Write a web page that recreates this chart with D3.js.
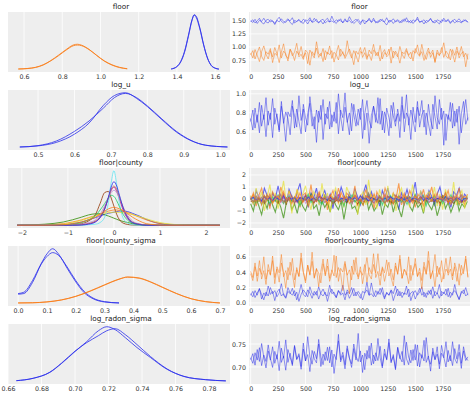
<!DOCTYPE html>
<html><head><meta charset="utf-8">
<script src="https://cdn.jsdelivr.net/npm/d3@7"></script>
<style>body{margin:0;background:#fff}text{font-family:"DejaVu Sans",sans-serif}</style>
</head><body><script>
// ---------- colours (ArviZ darkgrid cycle) ----------
const palette = ["#2a2eec","#fa7c17","#328c06","#c10c90","#933708","#65e5f3","#e6e135","#1ccd6a","#bd8ad5","#b16b57"];
const drawTicks = [0,250,500,750,1000,1250,1500,1750];

// ---------- floor ----------
const floorKdeX0 = [1.37,1.40,1.42,1.44,1.46,1.48,1.49,1.50,1.52,1.54,1.56,1.58,1.60,1.62];
const floorKdeA0 = [0.05,0.5,1.4,3.2,6.0,8.9,9.6,9.3,7.2,4.3,2.0,0.7,0.2,0.03];
const floorKdeB0 = [0.05,0.45,1.3,3.0,5.8,8.8,9.7,9.5,7.4,4.4,2.0,0.65,0.2,0.03];
const floorKdeX1 = [0.57,0.62,0.66,0.70,0.74,0.78,0.82,0.86,0.88,0.90,0.94,0.98,1.02,1.06,1.10,1.14];
const floorKdeA1 = [0.05,0.15,0.35,0.8,1.5,2.4,3.4,4.2,4.3,4.2,3.5,2.5,1.5,0.8,0.35,0.1];
const floorKdeB1 = [0.05,0.13,0.32,0.75,1.55,2.5,3.5,4.35,4.45,4.3,3.55,2.45,1.45,0.75,0.3,0.08];
const floorTraceA0 = [1.49,1.52,1.46,1.50,1.55,1.47,1.44,1.51,1.53,1.48,1.50,1.45,1.52,1.57,1.49,1.46,1.50,1.54,1.47,1.43,1.51,1.49,1.53,1.48,1.45,1.52,1.50,1.56,1.47,1.49,1.53,1.46,1.50,1.44,1.51,1.55,1.48,1.50,1.47,1.52,1.49,1.54,1.46,1.51,1.48,1.58,1.50,1.45,1.49,1.53,1.47,1.51,1.44,1.50,1.52,1.48,1.55,1.46,1.50,1.49,1.53,1.47,1.42,1.51,1.49,1.54,1.48,1.50,1.46,1.52,1.49,1.56,1.47,1.51,1.45,1.50,1.53,1.48,1.49,1.52,1.46,1.50,1.55,1.47,1.51,1.48,1.44,1.52,1.50,1.49,1.53,1.47,1.51,1.46,1.50,1.54,1.48,1.49,1.52,1.47];
const floorTraceB0 = [1.50,1.47,1.53,1.45,1.51,1.49,1.55,1.48,1.46,1.52,1.50,1.43,1.51,1.48,1.54,1.49,1.47,1.52,1.50,1.56,1.46,1.49,1.51,1.47,1.53,1.50,1.44,1.52,1.48,1.55,1.49,1.47,1.51,1.53,1.46,1.50,1.48,1.59,1.49,1.45,1.52,1.50,1.47,1.54,1.48,1.51,1.46,1.50,1.53,1.49,1.43,1.52,1.50,1.48,1.55,1.47,1.51,1.49,1.46,1.53,1.50,1.48,1.56,1.47,1.51,1.45,1.50,1.52,1.49,1.47,1.54,1.48,1.50,1.46,1.52,1.49,1.57,1.47,1.50,1.44,1.51,1.49,1.53,1.48,1.46,1.52,1.50,1.47,1.55,1.49,1.51,1.45,1.50,1.53,1.48,1.49,1.46,1.52,1.50,1.48];
const floorTraceA1 = [0.88,0.79,0.95,0.84,0.72,0.91,1.02,0.86,0.77,0.93,0.81,0.99,0.87,0.70,0.90,1.06,0.83,0.78,0.96,0.88,0.74,0.92,0.85,1.01,0.80,0.89,0.68,0.94,0.86,0.79,1.10,0.87,0.83,0.97,0.75,0.90,0.85,0.93,0.71,0.88,1.03,0.82,0.91,0.78,0.87,0.96,0.84,0.66,0.92,0.86,0.99,0.80,0.89,0.76,0.94,0.87,1.05,0.83,0.90,0.73,0.88,0.95,0.81,0.86,1.00,0.79,0.92,0.85,0.69,0.90,0.87,0.97,0.82,0.77,0.93,0.88,1.04,0.84,0.91,0.74,0.86,0.98,0.80,0.89,0.72,0.94,0.85,0.90,1.08,0.83,0.78,0.96,0.87,0.71,0.92,0.85,1.01,0.81,0.88,0.76];
const floorTraceB1 = [0.85,0.93,0.77,0.89,1.00,0.82,0.74,0.91,0.86,0.97,0.70,0.88,0.84,1.04,0.79,0.92,0.87,0.73,0.95,0.83,0.90,1.07,0.81,0.86,0.76,0.94,0.89,0.65,0.91,0.84,0.98,0.80,0.88,0.72,0.93,0.86,1.02,0.78,0.90,0.85,0.75,0.96,0.87,0.82,1.12,0.89,0.79,0.93,0.84,0.71,0.91,0.88,0.99,0.80,0.86,0.74,0.94,0.90,0.83,1.03,0.77,0.89,0.85,0.96,0.69,0.92,0.87,0.81,1.01,0.86,0.78,0.93,0.84,0.90,0.73,0.97,0.88,0.82,1.05,0.85,0.76,0.91,0.87,0.94,0.70,0.89,0.83,0.99,0.80,0.92,0.86,0.75,0.95,0.84,1.00,0.79,0.88,0.91,0.62,0.87];

// ---------- log_u ----------
const loguKdeX = [0.45,0.50,0.55,0.60,0.64,0.68,0.71,0.74,0.77,0.80,0.84,0.88,0.92,0.96,1.02];
const loguKdeA = [0.02,0.12,0.45,1.15,1.9,2.85,3.6,3.9,3.6,3.0,2.05,1.15,0.5,0.15,0.02];
const loguKdeB = [0.02,0.1,0.35,0.95,1.75,3.05,3.75,3.95,3.55,2.95,2.0,1.1,0.48,0.15,0.02];
const loguTraceA = [0.74,0.62,0.85,0.70,0.91,0.66,0.78,0.55,0.82,0.73,0.95,0.68,0.79,0.60,0.87,0.72,0.50,0.81,0.76,0.93,0.64,0.84,0.71,0.58,0.89,0.75,0.67,0.97,0.77,0.63,0.83,0.70,0.88,0.52,0.79,0.74,0.92,0.65,0.81,0.69,1.00,0.76,0.61,0.86,0.72,0.57,0.90,0.78,0.66,0.84,0.73,0.94,0.62,0.80,0.48,0.77,0.87,0.70,0.96,0.68,0.82,0.59,0.85,0.75,0.64,0.91,0.71,0.79,0.54,0.88,0.74,0.99,0.67,0.83,0.72,0.60,0.86,0.77,0.93,0.65,0.80,0.69,0.56,0.89,0.76,0.63,0.94,0.73,0.82,0.51,0.78,0.71,0.90,0.66,0.84,0.47,0.79,0.92,0.68,0.75];
const loguTraceB = [0.71,0.83,0.64,0.78,0.59,0.88,0.73,0.96,0.67,0.80,0.54,0.85,0.75,0.62,0.92,0.69,0.81,0.74,0.57,0.87,0.77,0.65,0.98,0.72,0.84,0.60,0.79,0.90,0.66,0.76,0.49,0.82,0.73,0.94,0.68,0.86,0.63,0.78,0.71,0.91,0.58,0.83,0.75,1.01,0.70,0.80,0.61,0.89,0.74,0.67,0.85,0.53,0.79,0.93,0.72,0.64,0.87,0.76,0.69,0.95,0.62,0.81,0.73,0.56,0.88,0.77,0.66,0.84,0.71,0.97,0.60,0.80,0.74,0.52,0.86,0.70,0.92,0.65,0.78,0.83,0.57,0.89,0.72,0.63,0.98,0.75,0.68,0.85,0.46,0.79,0.73,0.91,0.64,0.82,0.70,0.87,0.59,0.77,0.94,0.72];

// ---------- floor|county ----------
const countyKdeX = [-2.1,-1.5,-1.1,-0.9,-0.7,-0.55,-0.4,-0.3,-0.2,-0.12,-0.06,0,0.06,0.12,0.2,0.3,0.4,0.55,0.7,0.9,1.1,1.5,2.3];
const countyKde = [
 [0,0,0.01,0.03,0.06,0.1,0.14,0.17,0.2,0.22,0.23,0.24,0.25,0.26,0.26,0.25,0.22,0.17,0.11,0.05,0.02,0.005,0],
 [0,0.01,0.03,0.06,0.1,0.14,0.18,0.21,0.24,0.26,0.27,0.28,0.28,0.27,0.26,0.23,0.2,0.15,0.1,0.05,0.02,0.005,0],
 [0,0.02,0.06,0.1,0.15,0.19,0.21,0.21,0.19,0.17,0.15,0.13,0.11,0.09,0.07,0.05,0.03,0.015,0.006,0.002,0,0,0],
 [0,0,0,0,0.01,0.03,0.07,0.14,0.3,0.5,0.64,0.7,0.62,0.48,0.28,0.12,0.05,0.02,0.005,0,0,0,0],
 [0,0,0,0.01,0.03,0.08,0.2,0.4,0.6,0.62,0.5,0.35,0.2,0.1,0.04,0.015,0.005,0,0,0,0,0,0],
 [0,0,0,0,0,0.01,0.02,0.05,0.15,0.42,0.78,1.0,0.75,0.4,0.13,0.04,0.01,0,0,0,0,0,0],
 [0,0.005,0.02,0.05,0.09,0.13,0.17,0.2,0.22,0.23,0.235,0.24,0.24,0.235,0.23,0.22,0.2,0.16,0.12,0.07,0.035,0.008,0],
 [0,0,0.005,0.02,0.05,0.1,0.18,0.28,0.4,0.5,0.55,0.53,0.45,0.34,0.2,0.09,0.04,0.012,0.003,0,0,0,0],
 [0,0,0,0.005,0.02,0.05,0.1,0.2,0.36,0.5,0.6,0.64,0.6,0.5,0.34,0.18,0.08,0.025,0.006,0,0,0,0],
 [0,0,0,0,0.01,0.03,0.08,0.16,0.32,0.5,0.66,0.72,0.66,0.52,0.32,0.15,0.06,0.02,0.004,0,0,0,0],
 [0,0,0,0,0.005,0.02,0.06,0.14,0.3,0.52,0.7,0.8,0.72,0.55,0.32,0.14,0.05,0.015,0,0,0,0,0],
 [0,0,0.01,0.03,0.06,0.1,0.15,0.2,0.26,0.3,0.32,0.33,0.32,0.3,0.27,0.21,0.15,0.08,0.03,0.01,0,0,0]
];
const countyTrace = [
 [0.2,-0.4,0.7,0.1,-0.2,0.9,0.3,-0.6,0.5,0.0,1.1,-0.1,0.4,-0.5,0.8,0.2,-0.3,0.6,1.3,-0.2,0.3,-0.7,0.5,0.1,0.9,-0.4,0.2,0.7,-0.1,0.4,-0.8,0.6,0.0,1.0,0.3,-0.3,0.5,-0.1,0.8,0.2,-0.5,0.4,1.2,0.0,0.6,-0.2,0.3,-0.6,0.7,0.1,0.9,-0.3,0.4,0.2,-0.9,0.5,0.0,0.8,-0.1,0.3,1.4,-0.4,0.6,0.1,-0.2,0.7,0.2,-0.5,0.4,1.0,-0.1,0.5,0.0,-0.7,0.6,0.3,0.9,-0.2,0.4,0.1],
 [-0.1,0.5,-0.6,0.3,0.9,-0.2,0.4,-0.8,0.6,0.1,-0.3,1.0,0.2,-0.5,0.7,0.0,-0.2,0.8,-0.7,0.3,0.5,-0.1,1.2,-0.4,0.2,0.6,-0.3,0.4,-0.9,0.1,0.7,-0.2,0.9,0.0,-0.5,0.5,0.2,-0.1,1.1,-0.6,0.3,0.0,0.8,-0.3,0.4,-0.8,0.6,0.1,-0.2,0.9,0.2,-0.4,0.5,0.0,1.3,-0.5,0.3,-0.1,0.7,0.1,-0.7,0.4,0.0,0.8,-0.3,0.2,1.0,-0.2,0.5,-0.6,0.3,0.1,0.7,-0.4,0.2,-0.1,0.9,0.0,-0.5,0.4],
 [-0.4,-1.0,0.1,-0.6,-1.3,-0.2,-0.8,0.3,-0.5,-1.1,-0.1,-0.7,-1.6,-0.3,0.2,-0.9,-0.4,-1.2,0.0,-0.6,-1.0,-0.2,0.4,-0.8,-0.5,-1.4,-0.1,-0.7,-0.3,-1.1,0.1,-0.5,-0.9,-0.2,-1.7,-0.4,0.2,-0.8,-0.6,-1.2,-0.1,-0.5,0.3,-0.9,-0.3,-1.0,-0.6,0.0,-1.3,-0.4,-0.7,0.1,-1.1,-0.2,-0.8,-1.5,-0.3,0.2,-0.6,-1.0,-0.1,-0.7,-0.4,-1.2,0.0,-0.5,-0.9,-0.2,-1.4,-0.6,0.3,-0.8,-0.3,-1.1,-0.5,0.1,-1.0,-0.4,-0.7,-0.2],
 [0.0,0.15,-0.12,0.08,-0.2,0.22,-0.05,0.1,-0.15,0.3,0.02,-0.25,0.12,-0.08,0.18,-0.02,0.05,-0.3,0.14,-0.1,0.25,0.0,-0.14,0.09,-0.22,0.16,0.04,-0.06,0.2,-0.18,0.07,-0.03,0.35,-0.11,0.13,-0.07,0.01,-0.2,0.19,0.06,-0.16,0.11,-0.04,0.24,-0.09,0.03,-0.26,0.15,0.0,-0.12,0.21,-0.05,0.08,-0.17,0.28,-0.02,0.1,-0.13,0.17,-0.08,0.05,-0.21,0.12,0.02,-0.1,0.19,-0.15,0.07,-0.04,0.23,-0.11,0.14,-0.28,0.09,0.0,-0.07,0.16,-0.19,0.06,0.02],
 [-0.15,-0.3,0.0,-0.2,-0.05,-0.35,-0.12,0.08,-0.25,-0.1,-0.4,-0.02,-0.18,-0.28,0.05,-0.14,-0.22,-0.06,-0.45,-0.16,0.02,-0.24,-0.1,-0.32,-0.04,-0.19,0.1,-0.27,-0.13,-0.08,-0.36,-0.17,-0.01,-0.23,-0.11,-0.3,0.04,-0.2,-0.14,-0.42,-0.07,-0.18,-0.26,-0.03,-0.15,-0.33,0.06,-0.21,-0.12,-0.29,-0.05,-0.16,-0.38,-0.09,-0.22,0.0,-0.25,-0.13,-0.31,-0.06,-0.19,-0.1,-0.44,-0.15,-0.02,-0.27,-0.12,-0.2,0.03,-0.34,-0.16,-0.08,-0.24,-0.11,-0.37,-0.04,-0.18,-0.28,-0.13,-0.07],
 [0.0,0.06,-0.05,0.1,-0.08,0.03,-0.12,0.07,-0.02,0.12,-0.06,0.04,-0.1,0.08,0.0,-0.04,0.14,-0.07,0.02,-0.11,0.09,-0.03,0.05,-0.14,0.06,0.01,-0.08,0.11,-0.05,0.03,-0.09,0.13,-0.02,0.07,-0.06,0.0,0.1,-0.12,0.04,-0.03,0.08,-0.07,0.15,-0.04,0.02,-0.1,0.06,-0.01,0.09,-0.08,0.03,-0.05,0.12,-0.09,0.05,0.0,-0.13,0.07,-0.03,0.1,-0.06,0.04,-0.11,0.08,-0.02,0.06,-0.07,0.11,-0.04,0.01,-0.09,0.13,-0.05,0.03,-0.08,0.09,-0.01,-0.06,0.05,0.0],
 [0.3,-0.5,0.9,-0.2,0.6,-1.0,0.1,1.2,-0.4,0.5,-0.8,0.2,1.5,-0.3,0.7,-1.2,0.0,0.8,-0.6,0.4,1.1,-0.1,-0.9,0.6,0.2,-0.5,1.3,-0.2,0.5,-1.1,0.3,0.9,-0.4,0.1,-0.7,1.0,0.4,-0.3,0.7,-1.3,0.2,0.6,-0.5,1.6,-0.1,0.3,-0.8,0.8,0.0,-0.6,1.1,-0.2,0.5,-1.0,0.4,0.9,-0.3,0.2,-0.7,1.2,0.1,-0.4,0.7,-1.1,0.3,0.6,-0.2,1.0,-0.6,0.4,-0.9,0.8,0.0,-0.3,1.4,-0.5,0.2,0.7,-0.8,0.3],
 [-0.05,0.2,-0.3,0.1,-0.45,0.25,-0.1,-0.35,0.15,-0.2,0.35,-0.05,-0.4,0.05,0.3,-0.25,0.1,-0.15,-0.55,0.2,-0.05,0.4,-0.3,0.0,0.15,-0.2,-0.45,0.25,-0.1,0.1,-0.35,0.3,-0.15,0.05,-0.6,0.2,-0.05,0.35,-0.25,0.0,-0.4,0.15,-0.1,0.45,-0.3,0.05,-0.2,0.25,-0.5,0.1,-0.05,0.3,-0.35,-0.1,0.2,-0.25,0.05,-0.45,0.15,0.0,0.4,-0.2,-0.05,0.3,-0.55,0.1,-0.15,0.25,-0.3,0.05,-0.4,0.2,-0.1,0.35,-0.25,0.0,-0.5,0.15,-0.05,0.1],
 [0.0,0.2,-0.15,0.3,-0.25,0.1,-0.05,0.35,-0.2,0.05,0.25,-0.3,0.15,-0.1,0.4,-0.02,-0.22,0.18,-0.08,0.28,-0.35,0.08,0.12,-0.18,0.32,-0.05,0.02,-0.28,0.22,0.06,-0.12,0.38,-0.15,0.1,-0.25,0.16,0.0,-0.4,0.24,-0.06,0.14,-0.2,0.3,-0.1,0.04,-0.32,0.2,0.08,-0.16,0.42,-0.04,0.12,-0.26,0.18,-0.08,0.26,-0.14,0.02,-0.36,0.22,0.06,-0.18,0.34,-0.02,0.1,-0.24,0.16,-0.12,0.28,-0.06,0.0,-0.3,0.2,0.08,-0.2,0.36,-0.1,0.14,-0.16,0.04],
 [0.0,-0.2,0.25,-0.1,0.15,-0.35,0.3,0.05,-0.25,0.2,-0.05,0.4,-0.3,0.1,-0.15,0.28,-0.4,0.12,0.02,-0.22,0.35,-0.08,0.18,-0.3,0.06,0.45,-0.18,0.1,-0.12,0.3,-0.45,0.2,0.0,-0.26,0.24,-0.06,0.14,-0.36,0.32,0.04,-0.2,0.16,-0.1,0.5,-0.28,0.08,-0.14,0.26,-0.04,-0.38,0.22,0.1,-0.24,0.34,-0.08,0.12,-0.5,0.18,0.02,-0.16,0.3,-0.32,0.06,0.2,-0.12,0.42,-0.2,0.0,-0.28,0.14,0.24,-0.06,0.1,-0.42,0.28,-0.14,0.04,0.36,-0.22,0.08],
 [0.02,0.12,-0.1,0.05,-0.18,0.2,-0.04,0.09,-0.13,0.16,0.0,-0.08,0.24,-0.15,0.07,-0.02,0.13,-0.2,0.1,0.03,-0.11,0.18,-0.06,0.08,-0.16,0.22,-0.01,0.05,-0.12,0.14,-0.07,0.11,-0.22,0.06,0.01,-0.09,0.17,-0.04,0.09,-0.14,0.26,-0.03,0.07,-0.17,0.12,0.0,-0.1,0.15,-0.05,0.08,-0.19,0.2,-0.02,0.04,-0.12,0.13,-0.08,0.1,-0.24,0.06,0.02,-0.06,0.18,-0.11,0.09,-0.03,0.14,-0.15,0.05,0.01,-0.09,0.21,-0.04,0.07,-0.13,0.11,-0.01,-0.18,0.08,0.03],
 [0.0,0.35,-0.25,0.15,-0.5,0.3,-0.1,0.45,-0.35,0.05,0.25,-0.2,0.6,-0.15,0.1,-0.4,0.2,-0.05,0.5,-0.3,0.08,-0.6,0.28,0.02,-0.22,0.4,-0.12,0.18,-0.45,0.32,-0.02,0.12,-0.28,0.55,-0.08,0.22,-0.38,0.06,0.3,-0.18,0.0,-0.52,0.26,0.1,-0.14,0.42,-0.3,0.16,-0.06,0.36,-0.24,0.04,-0.42,0.2,0.12,-0.1,0.48,-0.2,0.08,-0.34,0.24,-0.04,0.14,-0.56,0.3,0.02,-0.16,0.38,-0.26,0.1,-0.08,0.5,-0.32,0.18,-0.12,0.28,-0.46,0.06,0.22,-0.02]
];

// ---------- floor|county_sigma ----------
const sigKdeX0 = [0.0,0.02,0.05,0.08,0.10,0.12,0.14,0.17,0.20,0.23,0.26,0.30,0.35];
const sigKdeA0 = [1.4,1.5,3.2,6.0,7.2,7.8,7.4,5.6,3.5,1.8,0.8,0.25,0.05];
const sigKdeB0 = [1.5,1.7,3.5,6.1,7.6,8.4,7.6,5.4,3.3,1.6,0.7,0.2,0.05];
const sigKdeX1 = [0.0,0.05,0.1,0.15,0.2,0.25,0.3,0.35,0.38,0.42,0.46,0.5,0.55,0.6,0.65,0.7];
const sigKdeA1 = [0.05,0.08,0.2,0.5,1.05,1.85,2.8,3.7,4.05,3.9,3.3,2.5,1.5,0.7,0.25,0.05];
const sigKdeB1 = [0.05,0.08,0.22,0.52,1.08,1.9,2.85,3.72,4.02,3.85,3.25,2.45,1.48,0.7,0.26,0.05];
const sigTraceA0 = [0.12,0.08,0.16,0.10,0.19,0.05,0.13,0.09,0.22,0.11,0.15,0.03,0.14,0.18,0.09,0.12,0.07,0.20,0.13,0.10,0.16,0.04,0.12,0.24,0.11,0.08,0.17,0.13,0.06,0.15,0.10,0.21,0.12,0.09,0.14,0.02,0.13,0.18,0.11,0.07,0.16,0.12,0.23,0.10,0.14,0.06,0.12,0.19,0.09,0.15,0.11,0.04,0.13,0.17,0.10,0.26,0.12,0.08,0.15,0.11,0.20,0.07,0.13,0.10,0.16,0.03,0.12,0.18,0.09,0.14,0.11,0.22,0.08,0.13,0.15,0.05,0.12,0.19,0.10,0.14,0.07,0.16,0.11,0.21,0.09,0.13,0.06,0.15,0.12,0.18,0.08,0.14,0.10,0.24,0.11,0.05,0.13,0.17,0.09,0.12];
const sigTraceB0 = [0.10,0.15,0.07,0.13,0.18,0.11,0.04,0.14,0.09,0.20,0.12,0.16,0.08,0.13,0.25,0.10,0.06,0.15,0.12,0.19,0.09,0.14,0.02,0.11,0.17,0.13,0.08,0.21,0.12,0.10,0.15,0.05,0.13,0.18,0.11,0.09,0.23,0.12,0.14,0.07,0.16,0.10,0.13,0.04,0.17,0.12,0.20,0.09,0.14,0.11,0.06,0.15,0.13,0.27,0.10,0.12,0.08,0.16,0.11,0.19,0.13,0.05,0.14,0.10,0.17,0.12,0.22,0.09,0.15,0.07,0.13,0.11,0.18,0.03,0.12,0.16,0.10,0.14,0.21,0.08,0.13,0.11,0.17,0.06,0.15,0.12,0.24,0.09,0.14,0.10,0.19,0.07,0.13,0.16,0.11,0.04,0.15,0.12,0.20,0.10];
const sigTraceA1 = [0.38,0.29,0.47,0.35,0.55,0.31,0.42,0.24,0.50,0.37,0.61,0.33,0.44,0.27,0.52,0.39,0.19,0.46,0.36,0.58,0.30,0.43,0.34,0.65,0.40,0.26,0.49,0.37,0.54,0.32,0.45,0.21,0.41,0.57,0.35,0.48,0.28,0.39,0.62,0.33,0.46,0.38,0.16,0.51,0.36,0.43,0.30,0.56,0.40,0.34,0.47,0.25,0.42,0.59,0.37,0.31,0.50,0.39,0.64,0.35,0.45,0.28,0.41,0.53,0.33,0.22,0.48,0.38,0.57,0.32,0.44,0.36,0.60,0.29,0.43,0.51,0.35,0.40,0.18,0.47,0.37,0.55,0.31,0.42,0.63,0.34,0.46,0.27,0.39,0.58,0.36,0.44,0.30,0.52,0.41,0.23,0.49,0.38,0.61,0.33];
const sigTraceB1 = [0.41,0.33,0.52,0.28,0.45,0.37,0.60,0.31,0.43,0.36,0.55,0.25,0.47,0.39,0.63,0.34,0.42,0.30,0.53,0.38,0.20,0.46,0.35,0.58,0.40,0.29,0.49,0.36,0.66,0.33,0.44,0.39,0.26,0.51,0.37,0.57,0.32,0.43,0.35,0.61,0.28,0.45,0.40,0.54,0.34,0.12,0.48,0.37,0.59,0.31,0.42,0.36,0.50,0.27,0.46,0.38,0.64,0.33,0.41,0.23,0.47,0.39,0.56,0.35,0.44,0.30,0.52,0.37,0.62,0.32,0.43,0.40,0.25,0.49,0.36,0.58,0.34,0.45,0.29,0.53,0.38,0.67,0.33,0.42,0.21,0.48,0.37,0.55,0.31,0.44,0.39,0.60,0.35,0.47,0.28,0.51,0.36,0.42,0.57,0.34];

// ---------- log_radon_sigma ----------
const lrsKdeX = [0.665,0.675,0.685,0.692,0.70,0.707,0.714,0.719,0.724,0.73,0.737,0.745,0.755,0.765,0.778,0.79];
const lrsKdeA = [0.3,1.5,4.5,9,15,20,25.5,27.5,26,22,17,12,6,2.5,0.8,0.2];
const lrsKdeB = [0.3,1.5,4.6,9.2,15.2,19.5,23,25.5,26.5,23.5,18.5,12.5,6.2,2.4,0.8,0.2];
const lrsTraceA = [0.720,0.708,0.731,0.715,0.742,0.703,0.726,0.712,0.748,0.719,0.699,0.734,0.717,0.756,0.710,0.724,0.693,0.738,0.721,0.706,0.745,0.716,0.729,0.701,0.752,0.713,0.727,0.690,0.736,0.718,0.709,0.760,0.722,0.705,0.733,0.714,0.744,0.700,0.728,0.716,0.771,0.711,0.725,0.696,0.740,0.719,0.707,0.750,0.723,0.712,0.735,0.688,0.730,0.717,0.746,0.704,0.726,0.713,0.762,0.720,0.698,0.739,0.715,0.753,0.709,0.727,0.694,0.743,0.721,0.711,0.768,0.718,0.705,0.737,0.714,0.749,0.702,0.731,0.719,0.758,0.710,0.724,0.691,0.741,0.716,0.728,0.706,0.747,0.722,0.700,0.736,0.713,0.755,0.718,0.708,0.732,0.697,0.744,0.721,0.714];
const lrsTraceB = [0.716,0.729,0.704,0.738,0.712,0.751,0.721,0.698,0.735,0.715,0.744,0.708,0.727,0.692,0.741,0.719,0.759,0.710,0.730,0.703,0.747,0.717,0.725,0.695,0.739,0.713,0.766,0.722,0.706,0.734,0.718,0.750,0.701,0.728,0.714,0.743,0.709,0.737,0.686,0.724,0.757,0.716,0.732,0.705,0.746,0.720,0.699,0.740,0.715,0.773,0.711,0.726,0.694,0.736,0.719,0.752,0.707,0.731,0.714,0.745,0.702,0.729,0.717,0.761,0.712,0.723,0.697,0.742,0.718,0.734,0.704,0.754,0.721,0.709,0.738,0.715,0.748,0.700,0.727,0.713,0.764,0.719,0.706,0.733,0.716,0.744,0.696,0.730,0.720,0.755,0.711,0.725,0.703,0.740,0.717,0.749,0.708,0.735,0.714,0.722];

// ---------- tick labels ----------
const floorXTicks = [0.6,0.8,1.0,1.2,1.4,1.6];
const loguXTicks = [0.5,0.6,0.7,0.8,0.9,1.0];
const countyXTicks = [-2,-1,0,1,2];
const sigXTicks = [0.0,0.1,0.2,0.3,0.4,0.5,0.6,0.7];
const lrsXTicks = [0.66,0.68,0.70,0.72,0.74,0.76,0.78];
const floorYTicks = [0.75,1.00,1.25,1.50];
const loguYTicks = [0.6,0.8,1.0];
const countyYTicks = [-2,-1,0,1,2];
const sigYTicks = [0.0,0.2,0.4,0.6];
const lrsYTicks = [0.70,0.75];

// ---------- assemble ----------
const zip = (xs, ys) => xs.map((x,i)=>[x, ys[i]]);
const rows = [
 {title:"floor", kx:[0.516,1.678], kt:floorXTicks, kf:".1f",
  kdes:[{d:zip(floorKdeX0,floorKdeA0),c:palette[0]},{d:zip(floorKdeX0,floorKdeB0),c:palette[0]},
        {d:zip(floorKdeX1,floorKdeA1),c:palette[1]},{d:zip(floorKdeX1,floorKdeB1),c:palette[1]}],
  ty:[0.52,1.67], tt:floorYTicks, tf:".2f",
  traces:[{v:floorTraceA0,c:palette[0]},{v:floorTraceB0,c:palette[0]},{v:floorTraceA1,c:palette[1]},{v:floorTraceB1,c:palette[1]}]},
 {title:"log_u", kx:[0.4176,1.027], kt:loguXTicks, kf:".1f",
  kdes:[{d:zip(loguKdeX,loguKdeA),c:palette[0]},{d:zip(loguKdeX,loguKdeB),c:palette[0]}],
  ty:[0.41,1.04], tt:loguYTicks, tf:".1f",
  traces:[{v:loguTraceA,c:palette[0]},{v:loguTraceB,c:palette[0]}]},
 {title:"floor|county", kx:[-2.3,2.52], kt:countyXTicks, kf:"d",
  kdes:countyKde.map((k,i)=>({d:zip(countyKdeX,k),c:palette[i%10]})),
  ty:[-2.42,2.58], tt:countyYTicks, tf:"d", county:true,
  traces:countyTrace.map((t,i)=>({v:t,c:palette[i%10]}))},
 {title:"floor|county_sigma", kx:[-0.035,0.735], kt:sigXTicks, kf:".1f",
  kdes:[{d:zip(sigKdeX0,sigKdeA0),c:palette[0]},{d:zip(sigKdeX0,sigKdeB0),c:palette[0]},
        {d:zip(sigKdeX1,sigKdeA1),c:palette[1]},{d:zip(sigKdeX1,sigKdeB1),c:palette[1]}],
  ty:[-0.04,0.74], tt:sigYTicks, tf:".1f",
  traces:[{v:sigTraceA0,c:palette[0]},{v:sigTraceB0,c:palette[0]},{v:sigTraceA1,c:palette[1]},{v:sigTraceB1,c:palette[1]}]},
 {title:"log_radon_sigma", kx:[0.66,0.7925], kt:lrsXTicks, kf:".2f",
  kdes:[{d:zip(lrsKdeX,lrsKdeA),c:palette[0]},{d:zip(lrsKdeX,lrsKdeB),c:palette[0]}],
  ty:[0.663,0.7935], tt:lrsYTicks, tf:".2f",
  traces:[{v:lrsTraceA,c:palette[0]},{v:lrsTraceB,c:palette[0]}]}
];

const W=474, H=395;
const rowTops=[12,90,168,246,324], rowH=60;
const LX=[8,230], RX=[249,470];
const bg="#eeeeee", tickCol="#333", titleCol="#222";
const svg=d3.select("body").append("svg").attr("width",W).attr("height",H);

rows.forEach((r,ri)=>{
  const top=rowTops[ri], bot=top+rowH;
  // ---- left: KDE ----
  const gL=svg.append("g");
  const xs=d3.scaleLinear().domain(r.kx).range(LX);
  const ymax=d3.max(r.kdes,k=>d3.max(k.d,p=>p[1]));
  const ysL=d3.scaleLinear().domain([-0.05*ymax,1.05*ymax]).range([bot,top]);
  gL.append("rect").attr("x",LX[0]).attr("y",top).attr("width",LX[1]-LX[0]).attr("height",rowH).attr("fill",bg);
  const axL=d3.axisBottom(xs).tickValues(r.kt).tickFormat(d3.format(r.kf)).tickSize(0).tickPadding(3);
  const gax=gL.append("g").attr("transform",`translate(0,${bot})`).call(axL);
  gax.select(".domain").remove();
  gax.selectAll("text").attr("font-size",6.3).attr("fill",tickCol).attr("font-family","DejaVu Sans");
  gL.selectAll(".vg").data(r.kt).join("line").attr("x1",d=>xs(d)).attr("x2",d=>xs(d)).attr("y1",top).attr("y2",bot).attr("stroke","#fff").attr("stroke-width",0.8);
  const clipL="cl"+ri;
  svg.append("clipPath").attr("id",clipL).append("rect").attr("x",LX[0]).attr("y",top).attr("width",LX[1]-LX[0]).attr("height",rowH);
  const line=d3.line().x(p=>xs(p[0])).y(p=>ysL(p[1])).curve(d3.curveMonotoneX);
  gL.append("g").attr("clip-path",`url(#${clipL})`).selectAll("path").data(r.kdes).join("path")
    .attr("d",k=>line(k.d)).attr("fill","none").attr("stroke",k=>k.c).attr("stroke-width",1.0).attr("stroke-opacity",0.8);
  gL.append("text").attr("x",(LX[0]+LX[1])/2+2).attr("y",top-3.5).attr("text-anchor","middle").attr("font-size",7.3).attr("fill",titleCol).text(r.title);

  // ---- right: trace ----
  const gR=svg.append("g");
  const xt=d3.scaleLinear().domain([-15,1999]).range(RX);
  const yt=d3.scaleLinear().domain(r.ty).range([bot,top]);
  gR.append("rect").attr("x",RX[0]).attr("y",top).attr("width",RX[1]-RX[0]).attr("height",rowH).attr("fill",bg);
  gR.selectAll(".vg").data(drawTicks).join("line").attr("x1",d=>xt(d)).attr("x2",d=>xt(d)).attr("y1",top).attr("y2",bot).attr("stroke","#fff").attr("stroke-width",0.8);
  gR.selectAll(".hg").data(r.tt).join("line").attr("y1",d=>yt(d)).attr("y2",d=>yt(d)).attr("x1",RX[0]).attr("x2",RX[1]).attr("stroke","#fff").attr("stroke-width",0.8);
  const axB=gR.append("g").attr("transform",`translate(0,${bot})`).call(d3.axisBottom(xt).tickValues(drawTicks).tickFormat(d3.format("d")).tickSize(0).tickPadding(3));
  axB.select(".domain").remove();
  axB.selectAll("text").attr("font-size",6.3).attr("fill",tickCol).attr("font-family","DejaVu Sans");
  const axLft=gR.append("g").attr("transform",`translate(${RX[0]},0)`).call(d3.axisLeft(yt).tickValues(r.tt).tickFormat(d3.format(r.tf)).tickSize(0).tickPadding(3));
  axLft.select(".domain").remove();
  axLft.selectAll("text").attr("font-size",6.3).attr("fill",tickCol).attr("font-family","DejaVu Sans");
  const clipR="cr"+ri;
  svg.append("clipPath").attr("id",clipR).append("rect").attr("x",RX[0]).attr("y",top).attr("width",RX[1]-RX[0]).attr("height",rowH);
  const tl=(n)=>d3.line().x((v,i)=>xt(i*2000/n)).y(v=>yt(v));
  gR.append("g").attr("clip-path",`url(#${clipR})`).selectAll("path").data(r.traces).join("path")
    .attr("d",t=>tl(t.v.length)(t.v)).attr("fill","none").attr("stroke",t=>t.c)
    .attr("stroke-width",r.county?1.1:1.0).attr("stroke-opacity",r.county?0.7:0.5);
  gR.append("text").attr("x",(RX[0]+RX[1])/2).attr("y",top-3.5).attr("text-anchor","middle").attr("font-size",7.3).attr("fill",titleCol).text(r.title);
});
</script></body></html>
